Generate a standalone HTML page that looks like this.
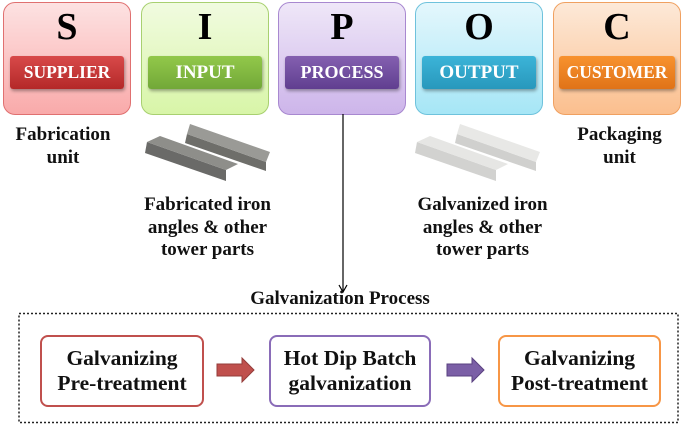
<!DOCTYPE html>
<html><head><style>
body{margin:0;width:685px;height:426px;background:#fff;position:relative;overflow:hidden;font-family:"Liberation Serif",serif;font-weight:bold}
.b{position:absolute;top:2px;width:126px;height:111px;border-radius:12px;border:1px solid}
.L{position:absolute;top:4px;left:0;width:100%;text-align:center;font-size:38px;line-height:40px;color:#000}
.bar{position:absolute;left:6px;right:6px;top:53px;height:33px;border-radius:3px;color:#fff;font-size:19px;line-height:33px;text-align:center;box-shadow:1px 2px 3px rgba(0,0,0,.35)}
.t{position:absolute;font-size:19px;line-height:22.5px;text-align:center;color:#111}
.ib{position:absolute;top:335px;height:68px;border-radius:8px;background:#fff;border:2px solid;font-size:21.5px;line-height:25px;text-align:center;display:flex;align-items:center;justify-content:center;color:#111}
</style></head><body>
<div class="b" style="left:3px;background:linear-gradient(#fde2e2,#f9aaaa);border-color:#e07070"><div class="L">S</div><div class="bar" style="background:linear-gradient(#d84a4a,#b42828);font-size:17.5px">SUPPLIER</div></div>
<div class="b" style="left:141px;background:linear-gradient(#f1fbe0,#d8f5a8);border-color:#a8d070"><div class="L">I</div><div class="bar" style="background:linear-gradient(#92c84a,#72a838)">INPUT</div></div>
<div class="b" style="left:278px;background:linear-gradient(#efe7f8,#cdb5ea);border-color:#a888d0"><div class="L">P</div><div class="bar" style="background:linear-gradient(#8460b0,#603e90);font-size:18px">PROCESS</div></div>
<div class="b" style="left:415px;background:linear-gradient(#e4f7fc,#a6e6f6);border-color:#6ec2dc"><div class="L">O</div><div class="bar" style="background:linear-gradient(#3cb4d8,#2898bc)">OUTPUT</div></div>
<div class="b" style="left:553px;background:linear-gradient(#fde9d8,#fbbf8e);border-color:#f0a060"><div class="L">C</div><div class="bar" style="background:linear-gradient(#f8922e,#e07318);font-size:17.5px;left:5px;right:5px">CUSTOMER</div></div>

<div class="t" style="left:0px;top:124px;width:126px">Fabrication<br>unit</div>
<div class="t" style="left:125px;top:194px;width:165px">Fabricated iron<br>angles &amp; other<br>tower parts</div>
<div class="t" style="left:400px;top:194px;width:165px">Galvanized iron<br>angles &amp; other<br>tower parts</div>
<div class="t" style="left:552px;top:124px;width:135px">Packaging<br>unit</div>

<svg width="685" height="426" style="position:absolute;left:0;top:0">
<g>
<polygon points="147,142 226,170 226,181 145,153" fill="#6a6a68"/>
<polygon points="147,142 160,136 238,164 226,170" fill="#8e8e8a"/>
<polygon points="187,134 266,162 266,171 185,143" fill="#6e6e6a"/>
<polygon points="187,134 190,124 270,152 266,162" fill="#9a9a96"/>
</g>
<g>
<polygon points="417,142 496,170 496,181 415,153" fill="#d2d2d0"/>
<polygon points="417,142 430,136 508,164 496,170" fill="#e6e6e4"/>
<polygon points="457,134 536,162 536,171 455,143" fill="#d0d0ce"/>
<polygon points="457,134 460,124 540,152 536,162" fill="#e8e8e6"/>
</g>
<line x1="343" y1="114" x2="343" y2="291" stroke="#000" stroke-width="1.2"/>
<polyline points="339,285 343,292 347,285" fill="none" stroke="#000" stroke-width="1.2"/>
<rect x="19" y="313.5" width="659" height="109" fill="none" stroke="#222" stroke-width="1.5" stroke-dasharray="2,2"/>
<polygon points="217,364 242,364 242,358 254,370 242,382 242,376 217,376" fill="#c0504d" stroke="#943c3a" stroke-width="1"/>
<polygon points="447,364 472,364 472,358 484,370 472,382 472,376 447,376" fill="#7b5fa6" stroke="#5a4080" stroke-width="1"/>
</svg>
<div class="t" style="left:190px;top:288px;width:300px;font-size:19px">Galvanization Process</div>
<div class="ib" style="left:40px;width:160px;border-color:#c0504d">Galvanizing<br>Pre-treatment</div>
<div class="ib" style="left:269px;width:158px;border-color:#8a6cb8">Hot Dip Batch<br>galvanization</div>
<div class="ib" style="left:498px;width:159px;border-color:#f79646">Galvanizing<br>Post-treatment</div>
</body></html>
